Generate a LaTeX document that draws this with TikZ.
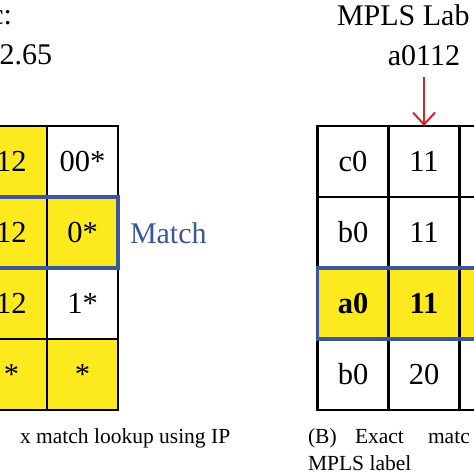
\documentclass[tikz,border=0pt]{standalone}
\usepackage{fontspec}
\setmainfont{Liberation Serif}
\usetikzlibrary{arrows.meta}
\definecolor{cellyellow}{RGB}{252,234,30}
\definecolor{matchblue}{RGB}{60,86,158}
\definecolor{arrowred}{RGB}{212,36,46}
\tikzset{
  cell/.style={draw=black, line width=2.7pt, minimum width=71pt, minimum height=71pt,
    inner sep=0pt, outer sep=0pt, font=\fontsize{30.5}{36}\selectfont},
  hit/.style={fill=cellyellow},
  matchbox/.style={draw=matchblue, line width=3.5pt},
  bigtext/.style={inner sep=0pt, outer sep=0pt, font=\fontsize{30}{36}\selectfont},
  captext/.style={inner sep=0pt, outer sep=0pt, font=\fontsize{21.5}{26}\selectfont},
  redarrow/.style={draw=arrowred, line width=2pt, -{Straight Barb[length=12pt,width=22pt,line width=2pt]}}
}
\begin{document}
\begin{tikzpicture}[x=1pt,y=-1pt]
\useasboundingbox (0,0) rectangle (474,474);
\clip (0,0) rectangle (474,474);
% ---------- left table ----------
\node[bigtext, anchor=base east] (t1) at (12,24) {c:};
\node[bigtext, anchor=base east] (t2) at (52,64) {2.65};
\node[cell, hit] (l11) at (11.5,161.5) {12};
\node[cell]      (l12) at (82.5,161.5) {00*};
\node[cell, hit] (l21) at (11.5,232.5) {12};
\node[cell, hit] (l22) at (82.5,232.5) {0*};
\node[cell, hit] (l31) at (11.5,303.5) {12};
\node[cell]      (l32) at (82.5,303.5) {1*};
\node[cell, hit] (l41) at (11.5,374.5) {*};
\node[cell, hit] (l42) at (82.5,374.5) {*};
\draw[matchbox] (l21.north west) rectangle (l22.south east);
\node[bigtext, text=matchblue, anchor=base west] (match) at (130,243) {Match};
\node[captext, anchor=base west] (capA) at (20,443) {x match lookup using IP};
% ---------- right table ----------
\node[bigtext, anchor=base west] (mpls) at (337,25) {MPLS Lab};
\node[bigtext, anchor=base] (lab) at (424,65) {a0112};
\node[cell] (r11) at (353,161.5) {c0};
\node[cell] (r12) at (424,161.5) {11};
\node[cell] (r13) at (495,161.5) {};
\node[cell] (r21) at (353,232.5) {b0};
\node[cell] (r22) at (424,232.5) {11};
\node[cell] (r23) at (495,232.5) {};
\node[cell, hit, font=\fontsize{30.5}{36}\selectfont\bfseries] (r31) at (353,303.5) {a0};
\node[cell, hit, font=\fontsize{30.5}{36}\selectfont\bfseries] (r32) at (424,303.5) {11};
\node[cell, hit] (r33) at (495,303.5) {};
\node[cell] (r41) at (353,374.5) {b0};
\node[cell] (r42) at (424,374.5) {20};
\node[cell] (r43) at (495,374.5) {};
\draw[matchbox] (r31.north west) rectangle (r33.south east);
\draw[redarrow] ([yshift=-12pt]lab.south) -- (r12.north);
\node[captext, anchor=base west] (capB1) at (308,443) {(B)};
\node[captext, anchor=base west] (capB2) at (355,443) {Exact};
\node[captext, anchor=base west] (capB3) at (428,443) {matc};
\node[captext, anchor=base west] (capB4) at (308,470) {MPLS label};
\end{tikzpicture}
\end{document}
